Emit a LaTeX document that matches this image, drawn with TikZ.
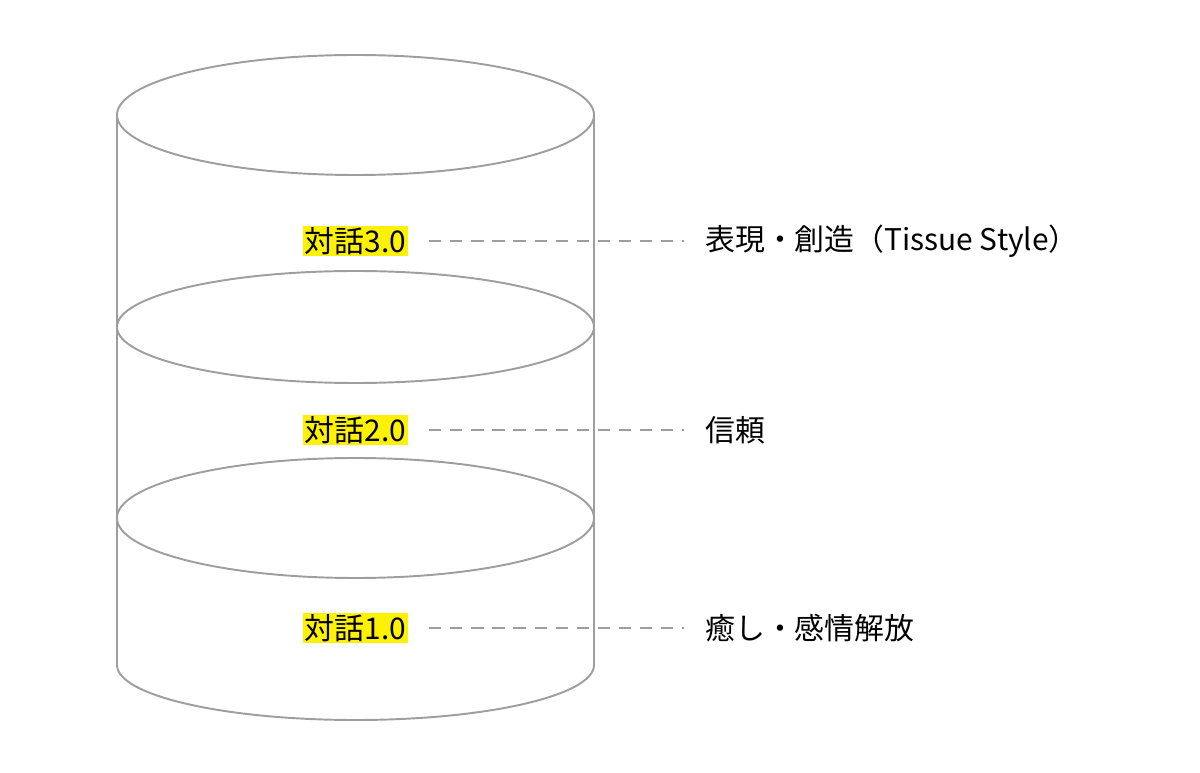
\documentclass[tikz,border=0pt]{standalone}
\usepackage{fontspec}
\setmainfont{Noto Sans CJK JP}
\begin{document}
\begin{tikzpicture}[x=0.02cm,y=-0.02cm,
  cyl/.style={draw=black!38,line width=1.1pt},
  dsh/.style={draw=black!38,line width=1.1pt,dash pattern=on 7pt off 5pt},
  lvl/.style={fill=yellow,inner sep=1pt,anchor=east,font=\fontsize{17}{20}\selectfont},
  desc/.style={inner sep=0pt,anchor=west,font=\fontsize{17}{20}\selectfont}]
\useasboundingbox (0,0) rectangle (1200,773);
\draw[cyl] (355.5,115) ellipse [x radius=238.5,y radius=60];
\draw[cyl] (355.5,327) ellipse [x radius=238.5,y radius=56];
\draw[cyl] (355.5,518) ellipse [x radius=238.5,y radius=60];
\draw[cyl] (117,115) -- (117,665) arc[start angle=180,end angle=360,x radius=238.5,y radius=-55] -- (594,115);
\node[lvl] (l3) at (408,241) {対話3.0};
\node[lvl] (l2) at (408,430) {対話2.0};
\node[lvl] (l1) at (408,628) {対話1.0};
\node[desc] (d3) at (705,241) {表現・創造（Tissue Style）};
\node[desc] (d2) at (705,430) {信頼};
\node[desc] (d1) at (705,628) {癒し・感情解放};
\draw[dsh] ([xshift=12pt]l3.east) -- ([xshift=-12pt]d3.west);
\draw[dsh] ([xshift=12pt]l2.east) -- ([xshift=-12pt]d2.west);
\draw[dsh] ([xshift=12pt]l1.east) -- ([xshift=-12pt]d1.west);
\end{tikzpicture}
\end{document}
